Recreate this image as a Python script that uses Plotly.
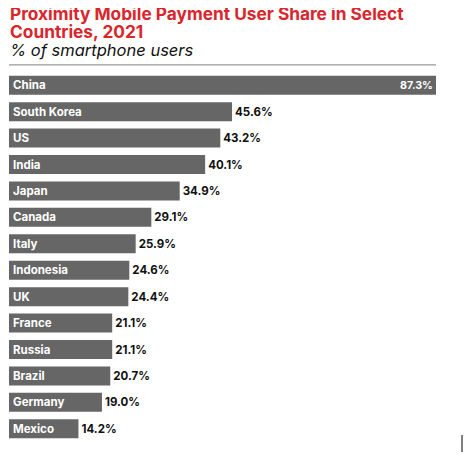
import plotly.graph_objects as go

countries = ["China", "South Korea", "US", "India", "Japan", "Canada", "Italy",
             "Indonesia", "UK", "France", "Russia", "Brazil", "Germany", "Mexico"]
values = [87.3, 45.6, 43.2, 40.1, 34.9, 29.1, 25.9, 24.6, 24.4, 21.1, 21.1, 20.7, 19.0, 14.2]

positions = ["inside"] + ["outside"] * (len(values) - 1)
FONT = "Inter"

fig = go.Figure()
fig.add_trace(go.Bar(
    x=values, y=countries, orientation="h",
    marker=dict(color="#666666", line=dict(width=0)),
    width=0.72,
    text=[f"{v:.1f}%" for v in values],
    textposition=positions,
    insidetextanchor="end",
    insidetextfont=dict(color="white", size=11.5, family=FONT, weight="bold"),
    outsidetextfont=dict(color="#111111", size=11.5, family=FONT, weight="bold"),
    cliponaxis=False,
    hoverinfo="skip",
))

for c in countries:
    fig.add_annotation(x=0, y=c, xref="x", yref="y", text=c, showarrow=False,
                       xanchor="left", xshift=2,
                       font=dict(color="white", size=11.5, family=FONT, weight="bold"))

title_lines = ["Proximity Mobile Payment User Share in Select", "Countries, 2021"]
for line, ys in zip(title_lines, [45.5, 28]):
    fig.add_annotation(xref="paper", yref="paper", x=0, y=1, xanchor="left", yanchor="bottom",
                       xshift=-1, yshift=ys, showarrow=False, align="left",
                       text=f"<b>{line}</b>",
                       font=dict(color="#d9262c", size=17.3, family=FONT))
fig.add_annotation(xref="paper", yref="paper", x=0, y=1, xanchor="left", yanchor="bottom",
                   xshift=-1, yshift=9.5, showarrow=False,
                   text="<i>% of smartphone users</i>",
                   font=dict(color="#111111", size=16.5, family=FONT))

fig.add_shape(type="line", xref="paper", yref="paper", x0=0, x1=1, y0=1.019, y1=1.019,
              line=dict(color="#999999", width=1.2))
fig.add_shape(type="line", xref="paper", yref="paper", x0=1.0609, x1=1.0609,
              y0=0.019, y1=-0.027, line=dict(color="#555555", width=1.5))

fig.update_layout(
    width=465, height=449,
    margin=dict(l=1, r=37, t=64, b=15),
    plot_bgcolor="white", paper_bgcolor="white",
    showlegend=False,
    xaxis=dict(range=[0, 87.3], visible=False, fixedrange=True),
    yaxis=dict(autorange="reversed", visible=False, fixedrange=True),
)

fig.write_html("out.html")
